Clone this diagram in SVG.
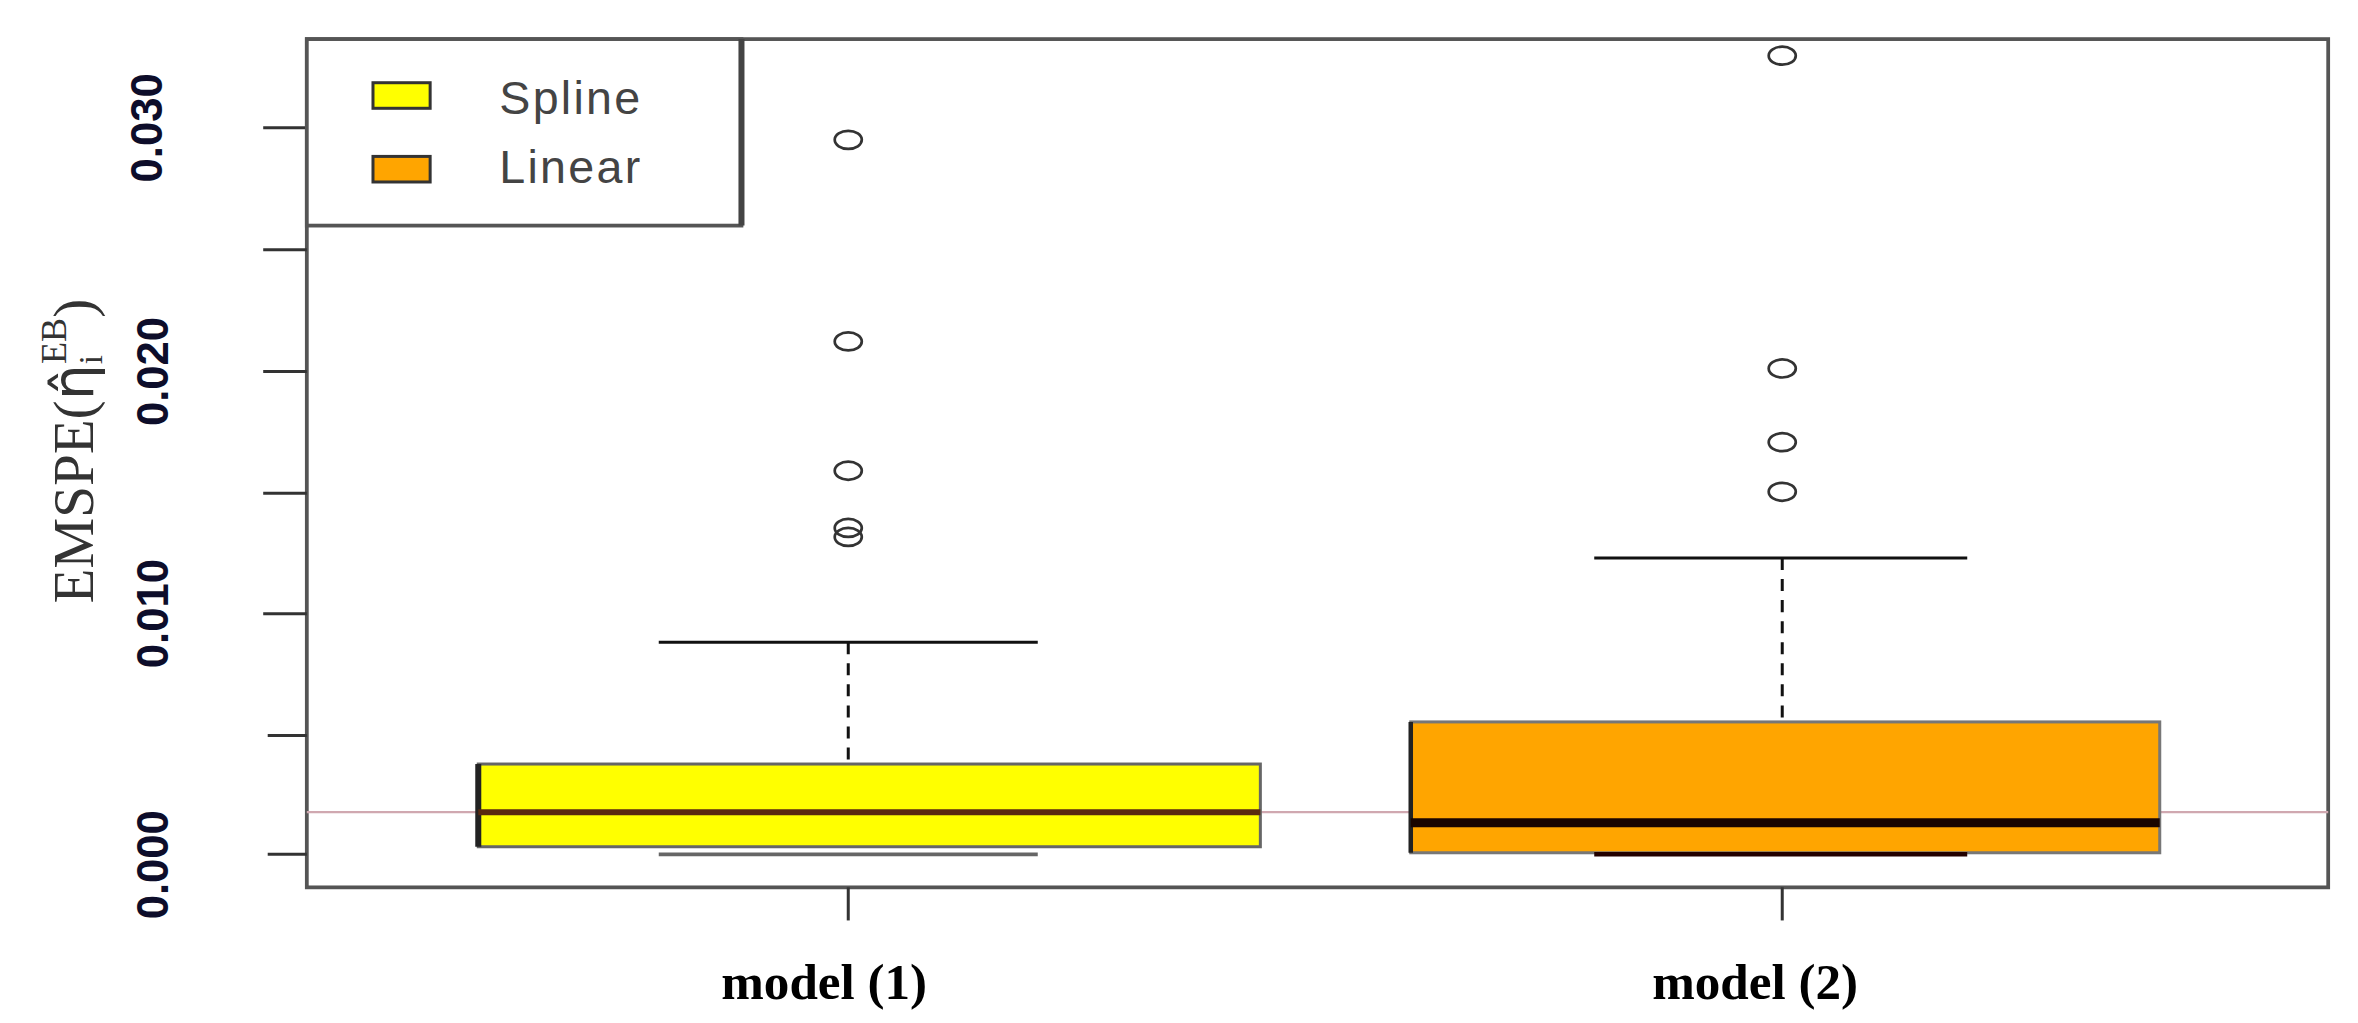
<svg xmlns="http://www.w3.org/2000/svg" width="2358" height="1023" viewBox="0 0 2358 1023">
<style>
.ax{stroke:#555;stroke-width:2.5;fill:none}
.tk{stroke:#333;stroke-width:2}
.ytl{font-family:"Liberation Sans",Arial,sans-serif;font-weight:bold;font-size:29px;fill:#0d0d2a;text-anchor:middle}
.xtl{font-family:"Liberation Serif","Times New Roman",serif;font-weight:bold;font-size:34px;fill:#000;text-anchor:middle}
.lg{font-family:"Liberation Sans",Arial,sans-serif;font-size:31px;fill:#444;letter-spacing:1.5px}
.out{fill:none;stroke:#333;stroke-width:1.8}
.wh{stroke:#111;stroke-width:2}
</style>
<rect width="2358" height="1023" fill="#fff"/>
<g transform="scale(1.504)">
<g id="frame">
<rect x="204" y="26" width="1344" height="564" class="ax"/>
</g>
<g id="yaxis">
<line class="tk" x1="175" y1="85" x2="204" y2="85"/>
<line class="tk" x1="175" y1="166" x2="204" y2="166"/>
<line class="tk" x1="175" y1="247" x2="204" y2="247"/>
<line class="tk" x1="175" y1="328" x2="204" y2="328"/>
<line class="tk" x1="175" y1="408" x2="204" y2="408"/>
<line class="tk" x1="178" y1="489" x2="204" y2="489"/>
<line class="tk" x1="178" y1="568" x2="204" y2="568"/>
<text class="ytl" transform="translate(108,85) rotate(-90)">0.030</text>
<text class="ytl" transform="translate(112,247) rotate(-90)">0.020</text>
<text class="ytl" transform="translate(112,408) rotate(-90)">0.010</text>
<text class="ytl" transform="translate(112,575) rotate(-90)">0.000</text>
<text transform="translate(62,300) rotate(-90)" font-family="Liberation Serif,serif" font-size="38" fill="#333" text-anchor="middle">EMSPE(<tspan font-family="DejaVu Sans,sans-serif">η̂</tspan><tspan font-size="22" dy="6">i</tspan><tspan font-size="24" dx="-6" dy="-24">EB</tspan><tspan dy="18" font-size="38">)</tspan></text>
</g>
<g id="legend">
<rect x="204" y="26" width="289" height="124" fill="#fff" stroke="#555" stroke-width="2.5"/>
<line x1="493" y1="26" x2="493" y2="150" stroke="#444" stroke-width="4"/>
<rect x="248" y="55" width="38" height="17" fill="#ffff00" stroke="#333" stroke-width="2"/>
<rect x="248" y="104" width="38" height="17" fill="#ffa500" stroke="#333" stroke-width="2"/>
<text class="lg" x="332" y="76">Spline</text>
<text class="lg" x="332" y="122">Linear</text>
</g>
<g id="refline"><line x1="204" y1="540" x2="1548" y2="540" stroke="#d0a8b0" stroke-width="1.5"/></g>
<g id="box1">
<line class="wh" x1="564" y1="427" x2="564" y2="508" stroke-dasharray="8,6"/>
<line class="wh" x1="438" y1="427" x2="690" y2="427"/>
<line x1="438" y1="568" x2="690" y2="568" stroke="#666" stroke-width="2.5"/>
<rect x="318" y="508" width="520" height="55" fill="#ffff00" stroke="#666" stroke-width="2"/>
<line x1="318" y1="508" x2="318" y2="563" stroke="#222" stroke-width="4"/>
<line x1="318" y1="540" x2="838" y2="540" stroke="#5a2a10" stroke-width="4"/>
<ellipse class="out" cx="564" cy="93" rx="9" ry="6"/>
<ellipse class="out" cx="564" cy="227" rx="9" ry="6"/>
<ellipse class="out" cx="564" cy="313" rx="9" ry="6"/>
<ellipse class="out" cx="564" cy="351" rx="9" ry="6"/>
<ellipse class="out" cx="564" cy="357" rx="9" ry="6"/>
<line class="tk" x1="564" y1="590" x2="564" y2="612"/>
<text class="xtl" x="548" y="664">model (1)</text>
</g>
<g id="box2">
<line class="wh" x1="1185" y1="371" x2="1185" y2="480" stroke-dasharray="8,6"/>
<line class="wh" x1="1060" y1="371" x2="1308" y2="371"/>
<rect x="938" y="480" width="498" height="87" fill="#ffa500" stroke="#777" stroke-width="2"/>
<line x1="938" y1="480" x2="938" y2="567" stroke="#222" stroke-width="3"/>
<line x1="1060" y1="568" x2="1308" y2="568" stroke="#200" stroke-width="3"/>
<line x1="938" y1="547" x2="1436" y2="547" stroke="#1a0500" stroke-width="6"/>
<ellipse class="out" cx="1185" cy="37" rx="9" ry="6"/>
<ellipse class="out" cx="1185" cy="245" rx="9" ry="6"/>
<ellipse class="out" cx="1185" cy="294" rx="9" ry="6"/>
<ellipse class="out" cx="1185" cy="327" rx="9" ry="6" stroke-width="2.8"/>
<line class="tk" x1="1185" y1="590" x2="1185" y2="612"/>
<text class="xtl" x="1167" y="664">model (2)</text>
</g>
</g>
</svg>
